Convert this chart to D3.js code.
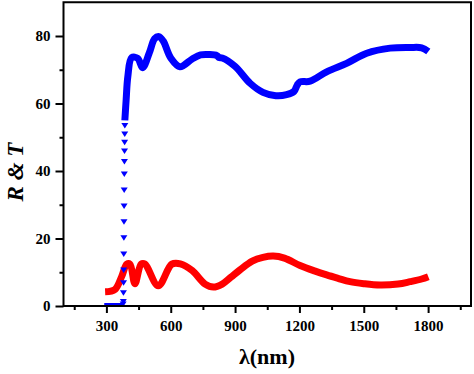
<!DOCTYPE html>
<html>
<head>
<meta charset="utf-8">
<script src="https://cdn.jsdelivr.net/npm/d3@7"></script>
<style>
  body { margin: 0; background: #fff; }
  svg { display: block; }
  text { font-family: "Liberation Serif", "Times New Roman", serif; font-weight: bold; }
</style>
</head>
<body>
<svg id="chart"></svg>
<script>
// transmittance (blue), dense part drawn as a thick band
const tWave = [386, 392, 400, 418, 446, 469, 500, 525, 545, 565, 600, 643, 700, 739, 780, 815, 825, 840, 900, 970, 1030, 1090, 1140, 1175, 1190, 1203, 1250, 1327, 1420, 1514, 1623, 1716, 1770, 1801]
const tVal  = [55,  61,  68,  73.6,73.4,70.6,75,  79.2,79.8,78.5,73.5,70.9,73.2,74.4,74.5,74.2,73.6,73.5,71,  66,  63.3,62.3,62.6,63.6,65.5,66.4,66.6,69.4,71.9,74.9,76.4,76.6,76.5,75.4]
// the steep edge, where single triangles can be seen
const edgeWave = [378, 379, 379.5, 380, 380.5, 381, 381.5, 382, 382.5, 383, 383.5, 384, 384.5, 385, 385.5, 386]
const edgeVal  = [0.6, 1.3, 3.9,   6.9, 10.7,  15.4, 20.2, 25,  29.6,  34.4, 39.1, 42.8, 45.9,  48.5, 51,    53.5]
// flat bottom before the edge
const lowWave = [290, 376]
const lowVal  = [0.3, 0.3]

// reflectance (red)
const rWave = [294, 340, 371, 395, 410, 433, 462, 480, 542, 605, 645, 700, 760, 799, 840, 880, 923, 980, 1030, 1078, 1130, 1203, 1270, 1327, 1380, 1436, 1500, 1576, 1660, 1716, 1770, 1801]
const rVal  = [4.2, 4.9, 8.7, 12.4,12.4,6.6, 12.4,12.4,6.0, 12.4,12.5,10.5,6.5, 5.6, 6.5, 8.5, 10.7,13.3,14.4, 14.8, 14.2, 12,  10.4, 9.2,  8.2,  7.2,  6.6,  6.2,  6.5,  7.2,  8,    8.7]

const xMajor = [300, 600, 900, 1200, 1500, 1800]
const xMinor = [150, 450, 750, 1050, 1350, 1650, 1950]
const yMajor = [0, 20, 40, 60, 80]
const yMinor = [10, 30, 50, 70]

const W = 474, H = 374
const svg = d3.select('#chart').attr('width', W).attr('height', H)

const x = d3.scaleLinear().domain([100, 2000]).range([63.5, 471])
const y = d3.scaleLinear().domain([0, 90]).range([306, 2.25])

svg.append('clipPath').attr('id', 'clip')
  .append('rect')
  .attr('x', x(100)).attr('y', y(90))
  .attr('width', x(2000) - x(100)).attr('height', y(0) - y(90))

const plot = svg.append('g').attr('clip-path', 'url(#clip)')

const line = d3.line().x(d => x(d[0])).y(d => y(d[1])).curve(d3.curveCatmullRom)

// red band
plot.append('path')
  .datum(d3.zip(rWave, rVal))
  .attr('d', line)
  .attr('fill', 'none').attr('stroke', '#ff0000')
  .attr('stroke-width', 7).attr('stroke-linejoin', 'round')

// blue low part
plot.append('path')
  .datum(d3.zip(lowWave, lowVal))
  .attr('d', line)
  .attr('fill', 'none').attr('stroke', '#0000ff')
  .attr('stroke-width', 4)

// blue band
plot.append('path')
  .datum(d3.zip(tWave, tVal))
  .attr('d', line)
  .attr('fill', 'none').attr('stroke', '#0000ff')
  .attr('stroke-width', 7).attr('stroke-linejoin', 'round')

// blue triangles on the edge
plot.selectAll('path.tri')
  .data(d3.zip(edgeWave, edgeVal))
  .join('path')
  .attr('class', 'tri')
  .attr('d', 'M-3.5,-2.5L3.5,-2.5L0,3Z')
  .attr('fill', '#0000ff')
  .attr('transform', d => `translate(${x(d[0])},${y(d[1])})`)

// axes
const xAxis = svg.append('g').attr('transform', `translate(0,${y(0)})`)
xAxis.call(d3.axisBottom(x).tickValues(xMajor).tickSize(7).tickFormat(d3.format('d')))
xAxis.append('g').call(d3.axisBottom(x).tickValues(xMinor).tickSize(4).tickFormat(''))
xAxis.selectAll('.domain').remove()

const yAxis = svg.append('g').attr('transform', `translate(${x(100)},0)`)
yAxis.call(d3.axisLeft(y).tickValues(yMajor).tickSize(8))
yAxis.append('g').call(d3.axisLeft(y).tickValues(yMinor).tickSize(4).tickFormat(''))
yAxis.selectAll('.domain').remove()

svg.selectAll('.tick line').attr('stroke', '#000').attr('stroke-width', 2)
svg.selectAll('.tick text')
  .attr('fill', '#000')
  .style('font-size', '15px')
  .style('font-family', '"Liberation Serif", serif')
  .style('font-weight', 'bold')
xAxis.selectAll('.tick text').attr('dy', '1.05em').attr('y', 9)
yAxis.selectAll('.tick text').attr('x', -13)

// frame
svg.append('rect')
  .attr('x', x(100)).attr('y', y(90))
  .attr('width', x(2000) - x(100)).attr('height', y(0) - y(90))
  .attr('fill', 'none').attr('stroke', '#000').attr('stroke-width', 2)

// labels
svg.append('text')
  .attr('x', 267).attr('y', 364)
  .attr('text-anchor', 'middle')
  .style('font-size', '22px')
  .text('λ(nm)')

svg.append('text')
  .attr('transform', 'translate(23,172) rotate(-90)')
  .attr('text-anchor', 'middle')
  .style('font-size', '23px')
  .style('font-style', 'italic')
  .text('R & T')
</script>
</body>
</html>
